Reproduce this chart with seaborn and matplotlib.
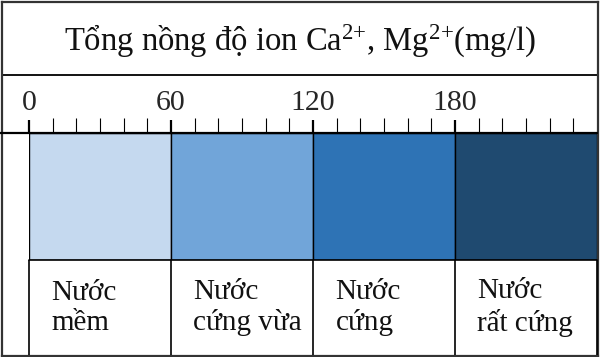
import matplotlib.pyplot as plt
import seaborn as sns
import pandas as pd
import numpy as np

sns.set_theme(style="white")
plt.rcParams['font.family'] = ['Liberation Serif', 'DejaVu Serif']
plt.rcParams['mathtext.fontset'] = 'custom'
plt.rcParams['mathtext.rm'] = 'Liberation Serif'
plt.rcParams['mathtext.it'] = 'Liberation Serif:italic'

# data
edges = [0, 60, 120, 180, 240]
major_ticks = [0, 60, 120, 180]
labels = ['Nước\nmềm', 'Nước\ncứng vừa', 'Nước\ncứng', 'Nước\nrất cứng']
colors = ['#c5d9ef', '#71a5d9', '#2e73b5', '#1f4a70']
title = 'Tổng nồng độ ion Ca$^{2{+}}$, Mg$^{2{+}}$(mg/l)'

df = pd.DataFrame({
    'mid': [(a + b) / 2 for a, b in zip(edges[:-1], edges[1:])],
    'h': [1] * len(labels),
    'loai': labels,
})

W, H = 600, 357
fig = plt.figure(figsize=(W / 100, H / 100), dpi=100)

# outer frame
frame = fig.add_axes([1.5 / W, 1.5 / H, 596.5 / W, 353.5 / H])
frame.set_xticks([])
frame.set_yticks([])
frame.patch.set_alpha(0)
for s in frame.spines.values():
    s.set_color('#333333')
    s.set_linewidth(1.6)

# bar strip
ax = fig.add_axes([29 / W, 1 - 260 / H, 568 / W, 127 / H])
sns.barplot(data=df, x='mid', y='h', hue='loai', palette=colors,
            native_scale=True, width=1, dodge=False, saturation=1,
            edgecolor='black', linewidth=1.0, legend=False, ax=ax)
ax.set_xlim(edges[0], edges[-1])
ax.set_ylim(0, 1)
ax.set_xlabel('')
ax.set_ylabel('')
ax.set_yticks([])
for s in ax.spines.values():
    s.set_visible(False)

# ruler on top
ax.xaxis.tick_top()
ax.set_xticks(major_ticks)
ax.set_xticklabels([str(t) for t in major_ticks], fontsize=21.5)
ax.set_xticks(np.arange(edges[0], edges[-1], 10), minor=True)
ax.tick_params(axis='x', which='major', direction='out', length=9.5,
               width=1.6, color='black', pad=3, top=True, bottom=False)
ax.tick_params(axis='x', which='minor', direction='out', length=10.5,
               width=0.8, color='black', top=True, bottom=False)

# horizontal rules
ax.axhline(1, xmin=-29 / 568, xmax=1, color='black', lw=1.6, clip_on=False)
ax.axhline(0, xmin=0, xmax=1, color='black', lw=1.2, clip_on=False)
frame.axhline(1 - 73 / 354, color='black', lw=1.3)

# label row separators + text
row = 95 / 127
ax.vlines(edges, -row, 0, colors='black', lw=1.2, clip_on=False)
for lo, lab in zip(edges[:-1], labels):
    ax.text(lo + 9.5, -row / 2, lab, fontsize=21, ha='left', va='center',
            linespacing=1.2, color='#111111')

fig.text(0.5, 1 - 41 / H, title, fontsize=23.5, ha='center', va='center',
         color='#111111')

fig.savefig('out.png', dpi=100)
